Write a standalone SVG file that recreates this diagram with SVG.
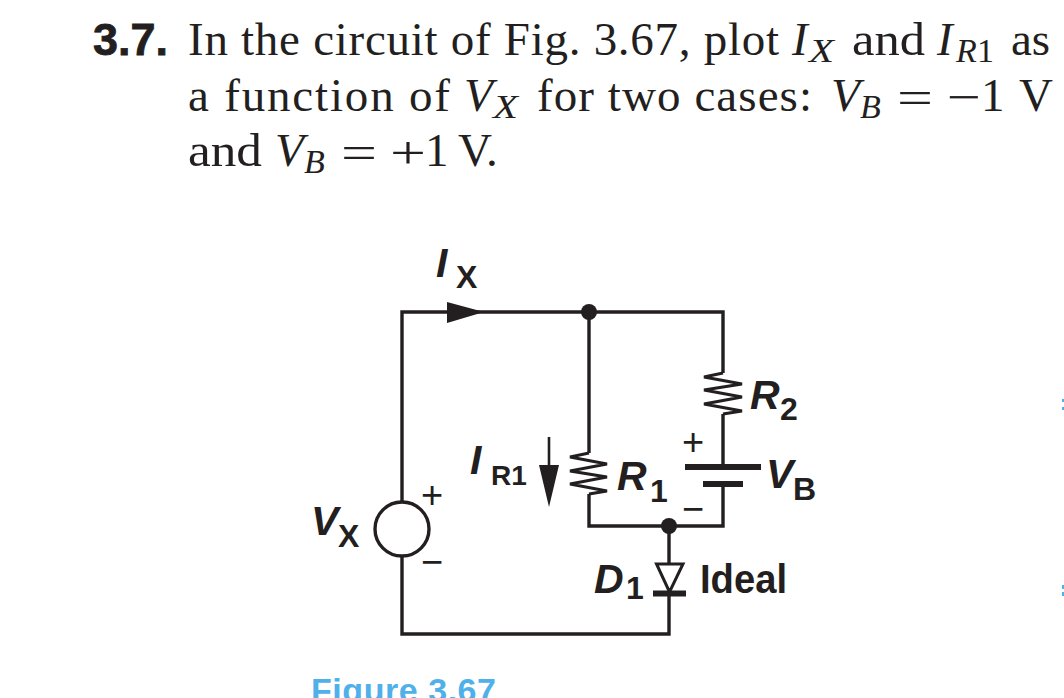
<svg xmlns="http://www.w3.org/2000/svg" width="1064" height="698" viewBox="0 0 1064 698">
<style>
.t{font-family:"Liberation Serif",serif;font-size:47px;fill:#231f20}
.ti{font-style:italic}
.s{font-family:"Liberation Serif",serif;font-style:italic;font-size:34px;fill:#231f20}
.l{font-family:"Liberation Sans",Arial,sans-serif;font-weight:bold;font-style:italic;font-size:41px;fill:#231f20}
.b{font-family:"Liberation Sans",Arial,sans-serif;font-weight:bold;font-size:32px;fill:#231f20}
.p{font-family:"Liberation Sans",Arial,sans-serif;font-size:38px;fill:#231f20;text-anchor:middle}
.w{fill:none;stroke:#231f20;stroke-width:3.4;stroke-linejoin:miter}
.z{fill:none;stroke:#231f20;stroke-width:3}
.f{fill:#231f20}
</style>
<rect width="1064" height="698" fill="#fff"/>
<g id="problem-text">
<text x="93" y="55" font-family="'Liberation Sans',Arial,sans-serif" font-weight="bold" font-size="44" fill="#231f20" stroke="#231f20" stroke-width="0.8" textLength="75" lengthAdjust="spacingAndGlyphs">3.7.</text>
<text class="t" x="188" y="55" textLength="591" lengthAdjust="spacing">In the circuit of Fig. 3.67, plot</text>
<text class="t ti" x="792" y="55">I</text><text class="s" x="809" y="62" textLength="25" lengthAdjust="spacingAndGlyphs">X</text>
<text class="t" x="852" y="55" textLength="73" lengthAdjust="spacingAndGlyphs">and</text>
<text class="t ti" x="937" y="55">I</text><text class="s" x="956" y="62">R</text><text class="t" style="font-size:34px" x="977" y="62">1</text>
<text class="t" x="1011" y="55">as</text>
<text class="t" x="188" y="111" textLength="262" lengthAdjust="spacing">a function of</text>
<text class="t ti" x="464" y="111" textLength="29" lengthAdjust="spacingAndGlyphs">V</text><text class="s" x="493" y="118" textLength="25" lengthAdjust="spacingAndGlyphs">X</text>
<text class="t" x="537" y="111" textLength="275" lengthAdjust="spacing">for two cases:</text>
<text class="t ti" x="831" y="111" textLength="29" lengthAdjust="spacingAndGlyphs">V</text><text class="s" x="860" y="118">B</text>
<text class="t" x="897" y="113" textLength="36" lengthAdjust="spacingAndGlyphs">=</text>
<text class="t" x="947" y="113" textLength="34" lengthAdjust="spacingAndGlyphs">−</text>
<text class="t" x="981" y="111">1</text>
<text class="t" x="1019" y="111">V</text>
<text class="t" x="188" y="166" textLength="74" lengthAdjust="spacingAndGlyphs">and</text>
<text class="t ti" x="275" y="166" textLength="29" lengthAdjust="spacingAndGlyphs">V</text><text class="s" x="304" y="173">B</text>
<text class="t" x="341" y="168" textLength="36" lengthAdjust="spacingAndGlyphs">=</text>
<text class="t" x="390" y="168" textLength="36" lengthAdjust="spacingAndGlyphs">+</text>
<text class="t" x="425" y="166">1</text>
<text class="t" x="458" y="166">V.</text>
</g>
<g id="connectors">
<path class="w" d="M402 502V312H723V373M589 312V453M723 414V467M723 484V526H589V494M669 526V563M669 593V634H402V556"/>
</g>
<g id="Ix-arrow">
<path class="f" d="M447 302L484 312L447 323Z"/>
<text class="l" x="436" y="277">I</text><text class="b" x="456" y="288">X</text>
</g>
<g id="junction-top"><circle class="f" cx="589" cy="312" r="8"/></g>
<g id="junction-bottom"><circle class="f" cx="669" cy="526" r="8"/></g>
<g id="R1">
<path class="z" d="M589 453L570 457L607 464L570 471L607 477L570 484L607 491L589 494"/>
<text class="l" x="617" y="490">R</text><text class="b" x="650" y="502">1</text>
</g>
<g id="R2">
<path class="z" d="M723 373L704 377L742 384L704 390L742 397L704 404L742 411L723 414"/>
<text class="l" x="750" y="409">R</text><text class="b" x="780" y="420">2</text>
</g>
<g id="IR1">
<path class="f" d="M539 465H547.700V437H550.300V465H559L549 507Z"/>
<text class="l" x="470" y="474">I</text><text class="b" x="491" y="485" style="font-size:28px">R1</text>
</g>
<g id="VB">
<rect class="f" x="685" y="464" width="76" height="6"/>
<rect class="f" x="703" y="481" width="40" height="6"/>
<text class="p" x="693" y="455">+</text><text class="p" x="693" y="522">−</text>
<text class="l" x="766" y="488">V</text><text class="b" x="793" y="500">B</text>
</g>
<g id="Vx">
<circle cx="402" cy="529" r="27" fill="none" stroke="#231f20" stroke-width="3.400"/>
<text class="p" x="432" y="508">+</text><text class="p" x="432" y="575">−</text>
<text class="l" x="311" y="535">V</text><text class="b" x="338" y="547">X</text>
</g>
<g id="D1">
<path d="M656.500 564H683L669.500 592Z" fill="#fff" stroke="#231f20" stroke-width="3"/>
<rect class="f" x="653" y="590.500" width="33" height="6"/>
<text class="l" x="594" y="593">D</text><text class="b" x="626" y="599">1</text>
<text class="l" x="700" y="593" style="font-style:normal" textLength="87" lengthAdjust="spacingAndGlyphs">Ideal</text>
</g>
<g id="caption">
<text x="311" y="702" font-family="'Liberation Sans',Arial,sans-serif" font-weight="bold" font-size="34" fill="#4fb0ea" textLength="185" lengthAdjust="spacing">Figure 3.67</text>
</g>
<g id="edge-marks" fill="#4fb0ea">
<rect x="1062" y="399" width="2" height="3"/><rect x="1062" y="407" width="2" height="3"/>
<rect x="1062" y="585" width="2" height="4"/><rect x="1062" y="592" width="2" height="4"/>
</g>
</svg>
